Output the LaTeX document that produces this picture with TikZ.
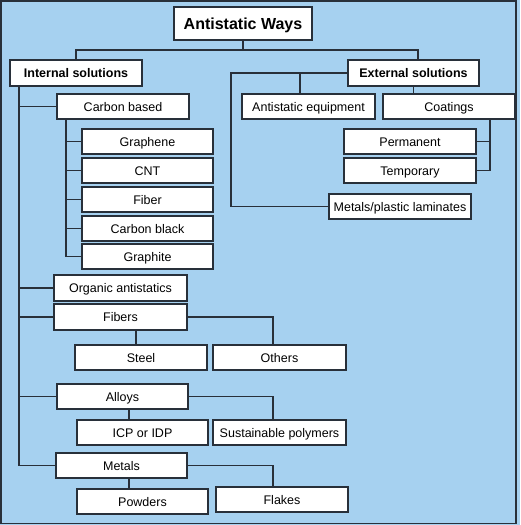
\documentclass[tikz,border=0pt]{standalone}
\usepackage{fontspec}
\setmainfont{Liberation Sans}
\usetikzlibrary{positioning}
\definecolor{skyback}{RGB}{166,209,240}
\definecolor{linegray}{RGB}{40,48,58}

\begin{document}
\begin{tikzpicture}[x=1pt,y=-1pt,-,
    box node/.style={rectangle,draw=linegray,fill=white,line width=1.5pt,minimum width=132pt,minimum height=25pt,inner sep=0pt,text height=9pt,text depth=0pt,font=\fontsize{12.5}{15}\selectfont},
    head node/.style={box node,minimum height=26pt,font=\fontsize{12.5}{15}\selectfont\bfseries},
    link/.style={draw=linegray,line width=1.5pt}]
  \begin{scope}
   \fill[skyback] (0,0) rectangle (520,525);
   \draw[linegray,line width=1.6pt] (0.8,0.8) rectangle (516,523.5);

   \node[box node,minimum width=138pt,minimum height=33pt,text height=11.5pt,font=\fontsize{16}{19}\selectfont\bfseries] (ways) at (243,23.5) {Antistatic Ways};
   \node[head node] (int) at (76,73) {Internal solutions};
   \node[head node,minimum width=131pt] (ext) at (413.5,73) {External solutions};

   % internal side
   \node[box node] (carbon) at (123,106.5) {Carbon based};
   \node[box node,minimum width=131pt] (graphene) at (147.5,141.5) {Graphene};
   \node[box node,minimum width=131pt] (cnt) at (147.5,170.5) {CNT};
   \node[box node,minimum width=131pt] (fiber) at (147.5,199.5) {Fiber};
   \node[box node,minimum width=131pt] (black) at (147.5,228.5) {Carbon black};
   \node[box node,minimum width=131pt] (graphite) at (147.5,256.5) {Graphite};
   \node[box node,minimum width=133pt,minimum height=26pt] (organic) at (120.5,288) {Organic antistatics};
   \node[box node,minimum width=133pt,minimum height=26pt] (fibers) at (120.5,317) {Fibers};
   \node[box node] (steel) at (141,357.5) {Steel};
   \node[box node,minimum width=133pt] (others) at (279.5,357.5) {Others};
   \node[box node,minimum width=131pt] (alloys) at (122.5,396.5) {Alloys};
   \node[box node,minimum width=131pt] (icp) at (142.5,432.5) {ICP or IDP};
   \node[box node,minimum width=133pt] (green) at (279.5,432.5) {Sustainable polymers};
   \node[box node,minimum width=131pt] (metals) at (121.5,465.5) {Metals};
   \node[box node,minimum width=131pt] (powders) at (142.5,501.5) {Powders};
   \node[box node] (flakes) at (282,499.5) {Flakes};

   % external side
   \node[box node,minimum width=133pt] (equip) at (308.5,106.5) {Antistatic equipment};
   \node[box node] (coatings) at (449,106.5) {Coatings};
   \node[box node] (permanent) at (410,141.5) {Permanent};
   \node[box node] (temporary) at (410,170.5) {Temporary};
   \node[box node,minimum width=142pt] (laminates) at (400,206.5) {Metals/plastic laminates};

   \coordinate (split) at (243,50);
   \coordinate (extbend) at (231,73);

   \draw[link] (ways.south) -- (split);
   \draw[link] (int.north) |- (split) -| ([xshift=4.5pt]ext.north);

   \draw[link] ([xshift=-57pt]int.south) |- (carbon.west);
   \draw[link] ([xshift=-57pt]int.south) |- (organic.west);
   \draw[link] ([xshift=-57pt]int.south) |- (fibers.west);
   \draw[link] ([xshift=-57pt]int.south) |- (alloys.west);
   \draw[link] ([xshift=-57pt]int.south) |- (metals.west);

   \draw[link] ([xshift=-57pt]carbon.south) |- (graphene.west);
   \draw[link] ([xshift=-57pt]carbon.south) |- (cnt.west);
   \draw[link] ([xshift=-57pt]carbon.south) |- (fiber.west);
   \draw[link] ([xshift=-57pt]carbon.south) |- (black.west);
   \draw[link] ([xshift=-57pt]carbon.south) |- (graphite.west);

   \draw[link] ([xshift=15.5pt]fibers.south) -- ([xshift=15.5pt]fibers.south |- steel.north);
   \draw[link] (fibers.east) -| ([xshift=-6.5pt]others.north);
   \draw[link] ([xshift=6.5pt]alloys.south) -- ([xshift=6.5pt]alloys.south |- icp.north);
   \draw[link] (alloys.east) -| ([xshift=-6.5pt]green.north);
   \draw[link] ([xshift=7.5pt]metals.south) -- ([xshift=7.5pt]metals.south |- powders.north);
   \draw[link] (metals.east) -| ([xshift=-9pt]flakes.north);

   \draw[link] (ext.west) -- (extbend) |- (laminates.west);
   \draw[link] ([xshift=-8.5pt]equip.north) -- ([xshift=-8.5pt]equip.north |- ext.west);
   \draw[link] (ext.south) -- (ext.south |- coatings.north);
   \draw[link] ([xshift=41pt]coatings.south) |- (permanent.east);
   \draw[link] ([xshift=41pt]coatings.south) |- (temporary.east);
  \end{scope}
\end{tikzpicture}
\end{document}
